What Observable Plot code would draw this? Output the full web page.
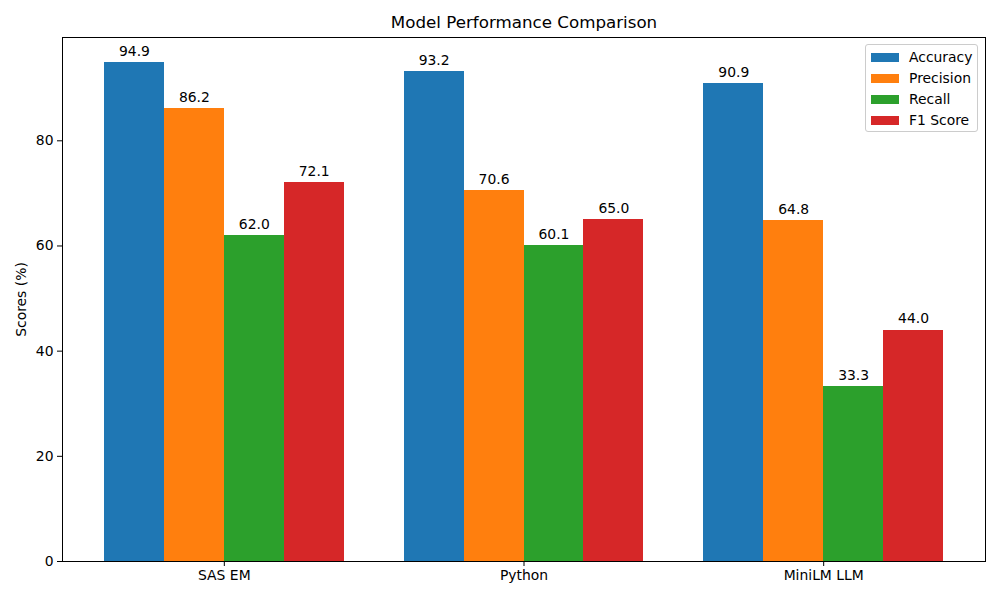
<!DOCTYPE html>
<html>
<head>
<meta charset="utf-8">
<script src="https://cdn.jsdelivr.net/npm/d3@7"></script>
<script src="https://cdn.jsdelivr.net/npm/@observablehq/plot@0.6"></script>
<style>
  html, body { margin: 0; padding: 0; background: white; }
  #wrap { position: relative; width: 1000px; height: 600px; font-family: "DejaVu Sans", sans-serif; }
  #legend { position: absolute; left: 865px; top: 44px; width: 111px; height: 86px;
    border: 1px solid #cccccc; border-radius: 3px; background: rgba(255,255,255,0.8); box-sizing: content-box; }
  .row { position: absolute; left: 0; height: 21px; font-size: 13.9px; color: #000; }
  .sw { position: absolute; left: 5px; width: 28px; height: 9.5px; }
  .lbl { position: absolute; left: 43px; white-space: nowrap; line-height: 16px; }
</style>
</head>
<body>
<div id="wrap"><div id="chart"></div><div id="legend"></div></div>
<script>
const models = ["SAS EM", "Python", "MiniLM LLM"];
const metrics = ["Accuracy", "Precision", "Recall", "F1 Score"];
const accuracy = [94.9, 93.2, 90.9];
const precision = [86.2, 70.6, 64.8];
const recall = [62.0, 60.1, 33.3];
const f1 = [72.1, 65.0, 44.0];
const colors = ["#1f77b4", "#ff7f0e", "#2ca02c", "#d62728"];
const yTicks = [0, 20, 40, 60, 80];

const series = [accuracy, precision, recall, f1];
const barW = 0.2;
const rows = [];
series.forEach((vals, m) => {
  vals.forEach((v, g) => {
    const c = g + (m - 1.5) * barW;
    rows.push({model: models[g], metric: metrics[m], value: v, x1: c - barW / 2, x2: c + barW / 2, xc: c, color: colors[m]});
  });
});
const xmin = -0.4 - 0.14, xmax = 2.4 + 0.14;
const ymax = d3.max(rows, d => d.value) * 1.05;

const chart = Plot.plot({
  width: 1000,
  height: 600,
  marginLeft: 62,
  marginRight: 15,
  marginTop: 37,
  marginBottom: 39,
  style: {fontFamily: "DejaVu Sans, sans-serif", fontSize: "13.9px", color: "black", background: "white"},
  x: {domain: [xmin, xmax]},
  y: {domain: [0, ymax]},
  marks: [
    Plot.rect(rows, {x1: "x1", x2: "x2", y1: 0, y2: "value", fill: "color", shapeRendering: "crispEdges"}),
    Plot.text(rows, {x: "xc", y: "value", text: d => d.value.toFixed(1), dy: -6.7, lineAnchor: "bottom", fill: "black"}),
    Plot.axisX({ticks: [0, 1, 2], tickFormat: i => models[i], tickSize: 5, tickPadding: 4, label: null}),
    Plot.axisY({ticks: yTicks, tickSize: 5, tickPadding: 4, label: null}),
    Plot.frame({stroke: "black", strokeWidth: 1}),
    Plot.text(["Model Performance Comparison"], {frameAnchor: "top", dy: -15, lineAnchor: "middle", fontSize: "16.7px", fill: "black"}),
    Plot.text(["Scores (%)"], {frameAnchor: "left", dx: -41, rotate: -90, lineAnchor: "middle", textAnchor: "middle", fill: "black"})
  ]
});
document.getElementById("chart").appendChild(chart);

const legend = document.getElementById("legend");
metrics.forEach((m, i) => {
  const row = document.createElement("div");
  row.className = "row";
  row.style.top = (4 + i * 21) + "px";
  row.style.width = "111px";
  const sw = document.createElement("div");
  sw.className = "sw";
  sw.style.background = colors[i];
  sw.style.top = "3.5px";
  const lb = document.createElement("div");
  lb.className = "lbl";
  lb.textContent = m;
  lb.style.top = "0px";
  row.appendChild(sw);
  row.appendChild(lb);
  legend.appendChild(row);
});
</script>
</body>
</html>
